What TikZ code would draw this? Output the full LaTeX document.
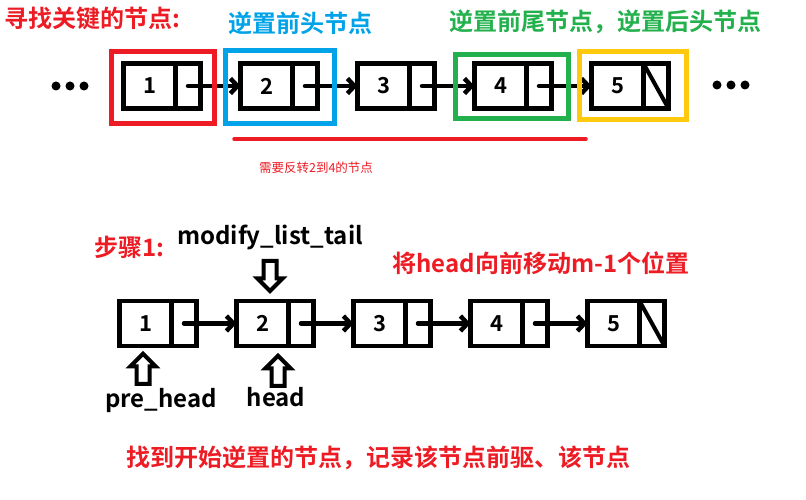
\documentclass[tikz,border=0pt]{standalone}
\usepackage{fontspec}
\setmainfont{Noto Sans CJK SC}[BoldFont={* Bold}]
\usepackage{xcolor}
\usetikzlibrary{arrows.meta, positioning, shapes.arrows}
\definecolor{pred}{HTML}{ED1C24}
\definecolor{pblue}{HTML}{00A2E8}
\definecolor{pgreen}{HTML}{22B14C}
\definecolor{pyellow}{HTML}{FFC90E}

\begin{document}
\begin{tikzpicture}[x=1pt, y=-1pt,
  datacell/.style={draw, line width=4.5pt, minimum width=52pt, minimum height=45pt,
    inner sep=0pt, outer sep=0pt, font=\fontsize{22}{22}\selectfont\bfseries},
  ptrcell/.style={draw, line width=4.5pt, minimum width=25pt, minimum height=45pt,
    inner sep=0pt, outer sep=0pt},
  link/.style={line width=4.5pt, line cap=round, -{Straight Barb[length=7pt,width=15pt]}},
  hlbox/.style={line width=4.5pt},
  bigtext/.style={font=\fontsize{24}{24}\selectfont\bfseries},
  smalltext/.style={font=\fontsize{12.5}{12.5}\selectfont},
  blockarrow/.style={draw, line width=4pt, single arrow, single arrow head extend=6pt,
    single arrow tip angle=90, inner sep=4.5pt, minimum height=30pt},
  dot/.style={circle, fill, inner sep=0pt, minimum size=9pt}
]
\useasboundingbox (0,0) rectangle (806,500);

\node[bigtext, text=pred, anchor=west] (findkey) at (1,18) {寻找关键的节点:};
\node[bigtext, text=pblue] (prehead) at (300,23) {逆置前头节点};
\node[bigtext, text=pgreen] (pretail) at (605,22) {逆置前尾节点，逆置后头节点};

\node[datacell] (a1) at (149.5,86) {1};
\node[ptrcell, right=0pt of a1] (ap1) {};
\foreach \i [remember=\i as \prev (initially 1)] in {2,...,5} {
  \node[datacell, right=40pt of ap\prev] (a\i) {\i};
  \node[ptrcell, right=0pt of a\i] (ap\i) {};
  \draw[link] (ap\prev.center) -- (a\i.west);
}
\draw[line width=4pt] (ap5.north west) -- (ap5.south east);

\foreach \x in {56,70,84} \node[dot] (ldot\x) at (\x,86) {};
\foreach \x in {717,731,745} \node[dot] (rdot\x) at (\x,85) {};

\draw[hlbox, pred] (111.5,51.5) rectangle (214.5,123.5);
\draw[hlbox, pblue] (225.5,50.5) rectangle (334.5,123.5);
\draw[hlbox, pgreen] (455.5,54.5) rectangle (568.5,118.5);
\draw[hlbox, pyellow] (579.5,51.5) rectangle (686.5,119.5);

\draw[pred, line width=3.5pt, line cap=round] (234,139) -- (586,139);
\node[smalltext, text=pred] (reverse) at (316,168) {需要反转2到4的节点};

\node[bigtext, text=pred, anchor=west] (step) at (91,247) {步骤1:};
\node[bigtext] (modtail) at (270,237) {modify\_list\_tail};
\node[bigtext, text=pred] (move) at (541,263) {将head向前移动m-1个位置};

\node[datacell] (b1) at (145.5,323.5) {1};
\node[ptrcell, right=0pt of b1] (bp1) {};
\foreach \i [remember=\i as \prev (initially 1)] in {2,...,5} {
  \node[datacell, right=40pt of bp\prev] (b\i) {\i};
  \node[ptrcell, right=0pt of b\i] (bp\i) {};
  \draw[link] (bp\prev.center) -- (b\i.west);
}
\draw[line width=4pt] (bp5.north west) -- (bp5.south east);

\node[blockarrow, shape border rotate=270, below=6pt of modtail] (downarr) {};
\node[blockarrow, shape border rotate=90] (uparr1) at (143,372) {};
\node[blockarrow, shape border rotate=90] (uparr2) at (278,374) {};
\node[bigtext] (prehd) at (161,401) {pre\_head};
\node[bigtext] (hd) at (276,397) {head};

\node[bigtext, text=pred] (record) at (378,458) {找到开始逆置的节点，记录该节点前驱、该节点};
\end{tikzpicture}
\end{document}
